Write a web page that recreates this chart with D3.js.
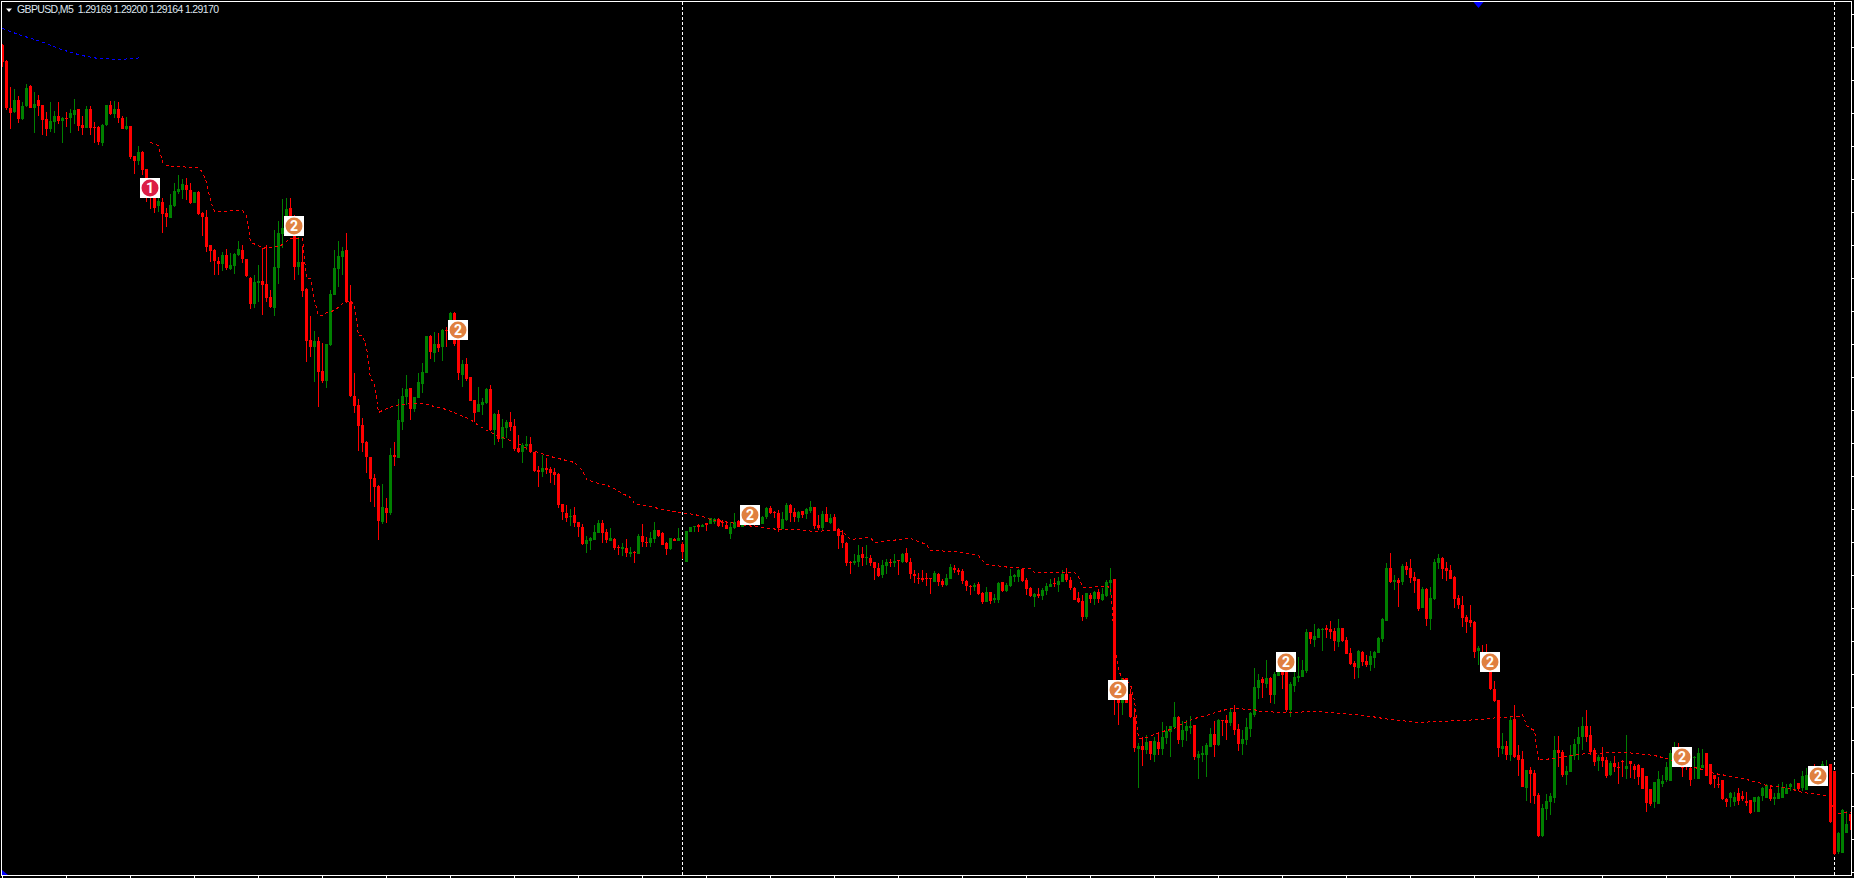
<!DOCTYPE html>
<html><head><meta charset="utf-8">
<style>html,body{margin:0;padding:0;background:#000;overflow:hidden}svg{display:block}text{white-space:pre}</style>
<script src="https://cdn.jsdelivr.net/npm/d3@7/dist/d3.min.js"></script>
</head><body><div id="chart"></div>
<script>
// Prices are stored in ticks of 0.00002 above 1.28820
const symbolTitle = "GBPUSD,M5";
const headerQuote = ["1.29169","1.29200","1.29164","1.29170"];
const opens = [955,939,892,888,900,881,894,914,892,900,895,881,871,878,884,879,882,882,885,891,
875,872,891,873,873,857,875,895,886,891,882,871,874,844,839,848,831,815,805,794,
798,787,782,794,808,810,815,810,797,808,787,783,755,750,739,736,745,731,734,745,
750,741,722,696,717,719,716,703,692,732,766,777,792,775,733,738,711,660,653,659,
629,619,655,705,731,743,750,698,604,595,575,558,543,522,514,478,492,487,545,542,
578,603,612,591,602,616,627,664,647,656,653,670,678,687,660,625,636,623,600,588,
595,597,611,570,586,561,572,578,574,552,548,554,556,548,530,528,532,531,528,526,
496,487,483,485,478,473,456,459,460,467,477,468,459,461,453,451,452,446,448,446,
464,458,457,461,470,467,457,451,461,459,456,438,468,473,475,473,477,476,478,481,
478,475,466,472,479,473,476,481,479,476,476,483,492,488,487,471,480,495,488,482,
489,486,489,493,475,472,486,477,483,471,465,457,438,437,438,446,442,442,438,432,
425,434,438,437,440,438,447,438,426,422,422,422,422,418,426,419,415,421,432,430,
429,419,414,413,416,407,398,408,400,400,418,409,414,423,423,431,420,412,403,406,
404,409,413,417,415,418,426,420,412,402,399,383,405,401,408,400,404,417,421,315,
297,322,306,283,251,254,250,259,245,258,251,262,268,273,283,260,269,272,275,242,
245,245,253,266,255,280,280,277,288,271,256,260,271,285,312,321,316,322,305,324,
335,328,290,314,322,323,329,368,360,362,370,372,371,369,358,372,360,347,337,332,
348,339,335,342,347,361,379,432,418,420,418,434,432,423,421,392,411,381,401,437,
442,432,430,423,402,395,383,380,378,349,348,345,335,311,300,251,254,245,281,245,
241,212,230,227,205,164,191,198,202,250,248,225,228,244,256,263,274,265,250,239,
243,240,225,237,233,239,231,239,234,235,232,224,211,198,196,216,220,219,233,245,
252,240,232,242,221,232,247,236,225,216,220,201,202,198,207,204,199,200,198,188,
204,202,211,201,201,202,206,213,210,217,212,210,223,224,230,225,228,236,229,148,
147,167,186,171];
const highs = [956,940,913,911,904,898,916,915,908,905,895,888,898,889,898,883,888,891,901,891,
884,894,894,878,874,876,895,899,899,898,884,883,874,844,854,849,831,815,805,802,
802,792,806,817,825,821,822,817,808,809,788,790,755,751,743,748,751,747,747,759,
755,741,723,725,735,752,755,710,770,779,801,802,802,785,763,754,712,684,669,663,
657,656,710,750,759,753,767,715,627,601,582,559,543,526,515,516,502,552,558,601,
612,625,612,603,627,637,664,665,668,667,671,673,688,688,664,640,642,623,600,613,
602,612,615,587,590,581,580,588,581,565,557,564,563,548,534,545,542,533,532,527,
496,495,491,493,478,476,464,463,475,480,480,471,472,462,455,457,461,453,449,466,
476,463,468,478,470,468,458,462,462,472,458,469,473,474,476,476,477,482,482,482,
480,478,478,487,480,479,482,482,480,483,484,493,494,489,490,488,497,496,492,489,
489,492,499,493,485,489,493,486,486,472,470,458,439,446,455,453,455,445,438,437,
440,441,441,446,440,447,452,442,430,427,430,427,422,429,427,421,426,436,435,432,
431,420,415,417,418,408,413,408,406,418,418,417,431,426,431,432,422,413,407,412,
412,417,421,422,423,430,432,423,413,408,405,407,407,409,411,412,420,432,421,320,
322,322,311,292,257,263,265,259,263,266,278,274,274,298,284,279,280,284,275,249,
254,257,272,279,281,280,285,292,295,276,270,282,288,332,326,323,340,323,328,335,
340,347,318,328,343,340,371,368,376,372,372,375,379,372,381,372,363,352,339,350,
349,345,349,349,363,382,437,447,425,422,436,438,441,428,421,413,412,413,441,446,
443,438,435,424,405,404,385,395,379,354,355,356,340,319,300,267,259,283,295,255,
249,230,233,230,207,196,206,207,264,264,250,234,255,261,273,283,290,274,252,245,
253,243,239,244,238,240,265,239,236,236,227,212,207,218,229,225,238,250,258,257,
250,245,245,244,252,251,241,226,223,223,217,202,208,208,212,209,208,199,203,204,
213,216,215,207,216,218,216,217,221,214,229,232,230,236,234,239,240,233,149,168,
191,189,180];
const lows = [933,890,871,887,877,880,893,892,867,884,865,864,868,867,876,857,873,867,876,869,
865,872,865,857,855,854,874,885,882,877,871,870,841,826,835,825,798,791,787,788,
767,773,782,793,806,801,800,796,797,785,764,748,738,725,725,729,730,730,726,744,
737,723,691,692,698,685,698,692,684,716,752,765,765,720,725,703,638,643,618,593,
617,612,654,705,713,725,697,603,587,549,548,527,498,493,460,476,477,485,534,542,
570,595,580,588,602,607,627,641,638,648,639,653,670,654,620,613,619,599,578,588,
585,596,569,555,558,552,562,569,549,547,537,550,547,528,513,523,526,517,515,492,
480,478,474,473,463,455,447,450,460,467,457,457,459,450,445,444,443,443,437,446,
453,453,453,457,463,455,445,450,459,459,441,438,468,468,468,473,469,476,476,473,
473,471,461,471,473,473,475,473,474,475,476,481,486,482,468,471,479,478,478,478,
482,481,487,471,470,469,478,476,469,451,452,434,426,435,433,434,435,434,420,423,
422,426,433,433,425,437,437,421,417,416,418,414,406,418,414,413,414,421,427,425,
416,409,405,409,405,396,398,396,397,397,408,408,413,418,418,418,405,403,393,402,
400,405,413,413,408,418,418,410,400,397,379,381,397,395,397,399,403,405,285,275,
285,297,282,248,212,234,246,240,238,245,245,256,243,272,256,253,259,266,240,221,
238,223,253,243,254,264,260,274,265,249,245,255,263,283,301,302,312,297,296,324,
311,288,283,308,318,323,327,356,353,362,349,362,361,349,353,358,346,335,321,322,
334,333,329,332,347,358,379,417,410,393,415,425,417,407,389,392,374,370,400,431,
421,419,421,392,391,373,367,373,342,335,335,330,310,298,243,246,240,239,242,224,
213,199,197,196,163,163,180,185,197,233,223,215,228,240,240,250,258,245,234,229,
233,222,224,228,216,223,221,222,221,215,211,188,194,192,215,213,218,230,244,238,
223,230,214,221,232,234,224,215,212,212,200,193,193,194,195,199,194,186,188,192,
199,207,199,195,202,205,208,209,209,209,209,215,220,220,222,225,225,177,145,146,
166,171,170];
const closes = [938,892,887,900,881,894,912,892,896,894,880,871,879,884,879,882,881,887,890,874,
872,891,872,872,858,875,895,886,891,882,871,874,843,839,848,830,812,805,792,799,
786,783,795,809,811,816,810,797,808,786,783,753,749,739,736,745,732,735,746,751,
741,724,696,718,719,715,702,693,733,767,772,791,775,733,738,709,659,653,659,628,
619,656,706,732,744,749,698,604,594,574,557,543,521,513,479,493,487,545,543,580,
604,611,591,603,618,628,664,648,656,652,670,669,687,656,627,636,621,599,587,596,
598,611,570,586,561,573,578,573,551,548,555,556,548,529,528,532,530,527,525,495,
488,482,484,477,473,456,460,462,468,477,467,460,462,452,452,453,447,448,447,464,
458,457,462,470,464,455,451,462,459,462,448,469,473,474,473,475,475,482,481,474,
477,471,473,478,473,478,481,477,476,481,483,492,487,487,472,481,495,487,483,488,
485,491,493,474,472,486,478,482,470,464,457,437,437,439,445,442,443,437,432,424,
435,438,437,439,439,446,438,426,424,421,420,421,421,427,418,415,422,433,430,428,
419,414,413,415,406,398,408,399,402,417,409,415,424,425,430,419,411,404,406,404,
410,414,416,416,419,426,420,412,400,398,383,407,401,408,401,406,418,420,303,297,
322,297,283,252,254,250,258,246,259,251,263,269,274,283,260,270,274,274,243,246,
247,255,266,255,280,279,277,288,270,256,261,273,287,313,320,317,322,305,326,332,
325,290,316,323,324,330,368,361,364,371,371,370,368,359,372,359,346,336,333,349,
338,335,344,348,362,381,432,418,420,417,434,430,422,419,391,411,381,402,438,442,
431,429,421,401,395,382,378,377,348,352,338,335,311,299,252,254,245,280,243,240,
213,230,226,204,164,192,199,204,250,247,225,229,245,256,263,274,263,248,238,243,
239,224,237,233,232,239,234,236,230,223,211,197,196,218,221,219,233,247,252,240,
232,240,220,243,247,235,224,216,221,215,201,198,207,203,199,201,197,187,203,203,
212,215,201,203,207,213,212,216,211,211,224,225,228,224,230,236,229,178,146,167,
190,176,179];

const redBars = [37,39,40,41,42,49,50,51,52,53,60,61,62,64,65,66,69,70,72,75,76,77,78,79,80,81,83,85,87,88,89,90,91,92,93,94,95,98,102,105,108,111,114,117,119,122,125,129,131,134,137,140,143,145,146,149,152,155,157,158,162,166,169,173,175,177,182,186,190,194,198,203,207,210,211,212,217,218,222,227,231,232,238,244,245,246,252,257,258,268,269,270,276,277,278,279,280,281,282,283,284,285,286,288,290,293,295,298,301,304,307,313,314,321,329,338,344,345,354,359,370,374,379,380,381,382,383,384,385,388,391,396,406,413,416,423,425,428,431,436,439,441,446,450,456,457,458,462];
const redValues = [858,855,838,835,834,833,828,818,800,789,790,785,758,755,752,753,754,756,762,762,722,722,700,685,685,688,690,697,700,695,665,665,653,622,617,588,590,595,597,597,594,591,586,581,575,568,563,557,552,548,544,541,538,530,521,517,514,507,503,497,494,490,488,486,484,481,478,475,473,471,471,469,470,469,465,461,463,458,460,462,456,450,449,445,440,436,433,432,428,428,424,413,414,413,360,330,322,320,316,300,262,262,263,266,269,272,277,282,285,289,292,291,289,288,289,286,283,282,278,279,281,283,284,286,275,272,270,240,241,242,244,247,248,245,242,233,231,227,225,221,218,215,213,208,205,205,187,188];
const blueBars = [0,2,4,8,11,14,18,21,24,29,33,35];
const blueValues = [972,969,966,961,957,952,947,944,942,941,942,943];
const markerBars = [37,73,114,187,279,321,372,420,454];
const markerPrices = [812,774,670,485,310,338,338,243,224];
const markerLabels = ["1","2","2","2","2","2","2","2","2"];
const separatorBars = [170,458];
const arrowBar = 369;

const W = 1854, H = 878;
const x = d3.scaleLinear().domain([0,462]).range([2.5,1850.5]);
const y = d3.scaleLinear().domain([122,1000]).range([878,0]);
const svg = d3.select("#chart").append("svg").attr("width",W).attr("height",H)
  .style("background","#000");
const plot = svg.append("g").attr("clip-path","url(#c)");
svg.append("clipPath").attr("id","c").append("rect").attr("x",2).attr("y",2).attr("width",1849).attr("height",873);

// separators
plot.selectAll("line.sep").data(separatorBars).join("line").attr("class","sep")
  .attr("x1",d=>x(d)).attr("x2",d=>x(d)).attr("y1",2).attr("y2",875)
  .attr("stroke","#fff").attr("stroke-width",1).attr("stroke-dasharray","3 2").attr("shape-rendering","crispEdges");

const bars = d3.range(opens.length);
const col = i => closes[i] >= opens[i] && closes[i] !== opens[i] ? "#008000" : "#ff0000";
plot.append("g").selectAll("rect").data(bars).join("rect")
  .attr("x",i=>x(i)-0.5).attr("width",1)
  .attr("y",i=>y(highs[i])).attr("height",i=>y(lows[i])-y(highs[i]))
  .attr("fill",col).attr("shape-rendering","crispEdges");
plot.append("g").selectAll("rect").data(bars).join("rect")
  .attr("x",i=>x(i)-1.5).attr("width",3)
  .attr("y",i=>y(Math.max(opens[i],closes[i])))
  .attr("height",i=>Math.max(1,Math.abs(y(opens[i])-y(closes[i]))))
  .attr("fill",col).attr("shape-rendering","crispEdges");

const lineOf = (bs,vs,color) => plot.append("path")
  .attr("d",d3.line().x((d,i)=>x(bs[i])).y(d=>y(d)+0.5)(vs))
  .attr("fill","none").attr("stroke",color).attr("stroke-width",1).attr("stroke-dasharray","3 3")
  .attr("shape-rendering","crispEdges");
lineOf(redBars,redValues,"#ff0000");
lineOf(blueBars,blueValues,"#0000ff");

// numbered markers
const m = svg.append("g").selectAll("g").data(markerBars).join("g")
  .attr("transform",(d,i)=>`translate(${x(d)-0.5},${y(markerPrices[i])})`);
m.append("rect").attr("x",-10).attr("y",-10).attr("width",20).attr("height",20).attr("fill","#fff");
m.append("circle").attr("r",8.5).attr("fill",(d,i)=>markerLabels[i]==="1"?"#dc1e46":"#e08040");
m.append("text").attr("text-anchor","middle").attr("y",5).attr("fill","#fff")
  .attr("font-family","Roboto, sans-serif").attr("font-weight",700).attr("font-size",14)
  .text((d,i)=>markerLabels[i]);

// frame + axes
const xAxis = d3.axisBottom(x).tickValues(d3.range(0,463,16)).tickFormat("").tickSize(3).offset(0);
svg.append("g").attr("transform","translate(0,875.5)").call(xAxis)
  .call(g=>g.select(".domain").remove()).selectAll("line").attr("stroke","#fff").attr("shape-rendering","crispEdges");
const yAxis = d3.axisRight(y).tickValues(d3.range(986,100,-33)).tickFormat("").tickSize(3).offset(0.5);
svg.append("g").attr("transform","translate(1851.5,0)").call(yAxis)
  .call(g=>g.select(".domain").remove()).selectAll("line").attr("stroke","#fff").attr("shape-rendering","crispEdges");
svg.append("path").attr("d","M1.5,875.5V1.5H1851.5V875.5H1.5").attr("fill","none").attr("stroke","#fff")
  .attr("shape-rendering","crispEdges");

// blue arrows
svg.append("path").attr("d",`M${x(arrowBar)-5},2L${x(arrowBar)+5},2L${x(arrowBar)},8Z`).attr("fill","#0000ff");
svg.append("path").attr("d","M2,870L8,875L2,875Z").attr("fill","#0000ff");

// header
svg.append("path").attr("d","M6,8.5H12L9,12Z").attr("fill","#fff");
svg.append("text").attr("x",17).attr("y",13).attr("fill","#dfe6ee")
  .attr("font-family","'Liberation Sans', sans-serif").attr("font-size",10.5)
  .attr("textLength",202).attr("lengthAdjust","spacing")
  .text(symbolTitle+"  "+headerQuote.join(" "));
</script></body></html>
